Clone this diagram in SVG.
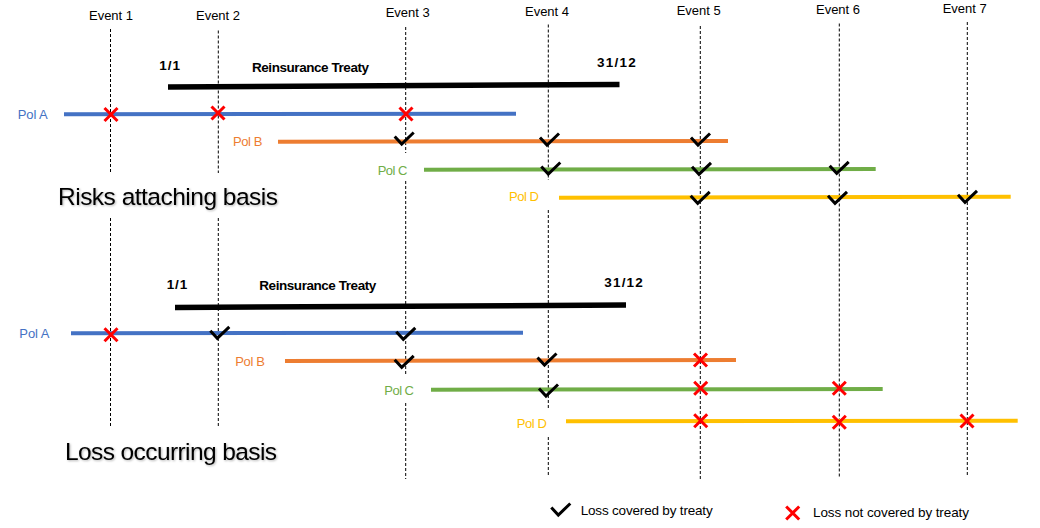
<svg xmlns="http://www.w3.org/2000/svg" xmlns:xlink="http://www.w3.org/1999/xlink" width="1040" height="528" viewBox="0 0 1040 528">
<style>
text{font-family:"Liberation Sans",Arial,sans-serif}
.ev{font-size:13px;fill:#000;text-anchor:middle}
.bd{font-size:13.5px;font-weight:bold;fill:#000}
.pl{font-size:13px}
.ttl{font-size:24.5px;fill:#000;filter:url(#sh)}
.lg{font-size:13.5px;fill:#000}
.evl{stroke:#000;stroke-width:1;stroke-dasharray:3 2;fill:none}
.bar{stroke:#000;stroke-width:5.5;fill:none}
.pa{stroke:#4472C4;stroke-width:4;fill:none}
.pb{stroke:#ED7D31;stroke-width:4;fill:none}
.pc{stroke:#70AD47;stroke-width:4;fill:none}
.pd{stroke:#FFC000;stroke-width:4;fill:none}
.ta{fill:#4472C4}.tb{fill:#ED7D31}.tc{fill:#70AD47}.td{fill:#FFC000}
</style>
<defs>
<filter id="sh" x="-10%" y="-30%" width="120%" height="160%"><feDropShadow dx="1" dy="1" stdDeviation="0.8" flood-color="#000" flood-opacity="0.3"/></filter>
<path id="chk" d="M-7,-7.5 L0,0 L12,-11.5" fill="none" stroke="#000" stroke-width="3"/>
<path id="crs" d="M-6.5,-6.5 L6.5,6.5 M6.5,-6.5 L-6.5,6.5" fill="none" stroke="#FF0000" stroke-width="3"/>
</defs>
<rect width="1040" height="528" fill="#fff"/>

<g id="event-labels">
<text class="ev" x="111" y="20" textLength="44">Event 1</text>
<text class="ev" x="218" y="20" textLength="44">Event 2</text>
<text class="ev" x="407.7" y="17.3" textLength="44">Event 3</text>
<text class="ev" x="547" y="15.5" textLength="44">Event 4</text>
<text class="ev" x="698.7" y="15.3" textLength="44">Event 5</text>
<text class="ev" x="838" y="14.3" textLength="44">Event 6</text>
<text class="ev" x="964.7" y="13.3" textLength="44">Event 7</text>
</g>

<g id="connectors">
<path class="evl" d="M110.5,29 V173 M110.5,218 V428"/>
<path class="evl" d="M218.3,30.5 V173 M218.3,218 V428"/>
<path class="evl" d="M405.7,27 V153 M405.7,181 V375 M405.7,403 V479"/>
<path class="evl" d="M548.3,24.5 V180 M548.3,210 V408 M548.3,437 V477"/>
<path class="evl" d="M700.3,26 V480"/>
<path class="evl" d="M839.3,23.5 V477"/>
<path class="evl" d="M967.3,22 V475"/>
</g>

<g id="ra-treaty">
<line class="bar" x1="168" y1="87" x2="619.5" y2="84.5"/>
<text class="bd" x="159.3" y="69.5" textLength="20.7">1/1</text>
<text class="bd" x="252" y="72" textLength="117">Reinsurance Treaty</text>
<text class="bd" x="597" y="67.3" textLength="38.7">31/12</text>
</g>

<g id="ra-pol-a">
<line class="pa" x1="64" y1="114.3" x2="516" y2="113.7"/>
<text class="pl ta" x="17.7" y="119" textLength="30">Pol A</text>
<use href="#crs" x="111" y="114.5"/>
<use href="#crs" x="218" y="113"/>
<use href="#crs" x="406" y="114"/>
</g>

<g id="ra-pol-b">
<line class="pb" x1="278" y1="141.7" x2="728" y2="141"/>
<text class="pl tb" x="233" y="146" textLength="29.3">Pol B</text>
<use href="#chk" x="401.7" y="144"/>
<use href="#chk" x="547" y="145"/>
<use href="#chk" x="698" y="145"/>
</g>

<g id="ra-pol-c">
<line class="pc" x1="424" y1="169.7" x2="875.7" y2="169"/>
<text class="pl tc" x="377.7" y="174.5" textLength="29.6">Pol C</text>
<use href="#chk" x="548.3" y="174"/>
<use href="#chk" x="699" y="174.3"/>
<use href="#chk" x="836.7" y="173.3"/>
</g>

<g id="ra-pol-d">
<line class="pd" x1="559" y1="197.7" x2="1010.7" y2="196.7"/>
<text class="pl td" x="509" y="201" textLength="30">Pol D</text>
<use href="#chk" x="697.7" y="203.3"/>
<use href="#chk" x="835" y="203.3"/>
<use href="#chk" x="965" y="202.3"/>
</g>

<g id="ra-title">
<text class="ttl" x="58" y="205" textLength="220">Risks attaching basis</text>
</g>

<g id="lo-treaty">
<line class="bar" x1="175" y1="307.5" x2="626" y2="305"/>
<text class="bd" x="166.7" y="289.3" textLength="20.5">1/1</text>
<text class="bd" x="259.3" y="290.4" textLength="117">Reinsurance Treaty</text>
<text class="bd" x="604.3" y="286.7" textLength="38.5">31/12</text>
</g>

<g id="lo-pol-a">
<line class="pa" x1="71" y1="333.3" x2="523" y2="332.7"/>
<text class="pl ta" x="19.3" y="338" textLength="30">Pol A</text>
<use href="#crs" x="111" y="334.7"/>
<use href="#chk" x="217.3" y="338.3"/>
<use href="#chk" x="403.3" y="339.3"/>
</g>

<g id="lo-pol-b">
<line class="pb" x1="285" y1="361" x2="736" y2="360"/>
<text class="pl tb" x="235.3" y="365.5" textLength="29.7">Pol B</text>
<use href="#chk" x="401.7" y="367.3"/>
<use href="#chk" x="544.5" y="365"/>
<use href="#crs" x="700.5" y="360"/>
</g>

<g id="lo-pol-c">
<line class="pc" x1="431" y1="389.7" x2="882.7" y2="389"/>
<text class="pl tc" x="384.3" y="394.5" textLength="29.7">Pol C</text>
<use href="#chk" x="546" y="396"/>
<use href="#crs" x="700.7" y="388.3"/>
<use href="#crs" x="839.3" y="388.3"/>
</g>

<g id="lo-pol-d">
<line class="pd" x1="566" y1="421.3" x2="1017.7" y2="420.7"/>
<text class="pl td" x="516.7" y="427.5" textLength="30.3">Pol D</text>
<use href="#crs" x="700.7" y="420.7"/>
<use href="#crs" x="839.3" y="422.3"/>
<use href="#crs" x="967" y="421"/>
</g>

<g id="lo-title">
<text class="ttl" x="65" y="459.5" textLength="212">Loss occurring basis</text>
</g>

<g id="legend">
<use href="#chk" x="558.3" y="515"/>
<text class="lg" x="580.7" y="515" textLength="132">Loss covered by treaty</text>
<use href="#crs" x="792.7" y="513"/>
<text class="lg" x="813" y="517.3" textLength="156">Loss not covered by treaty</text>
</g>
</svg>
